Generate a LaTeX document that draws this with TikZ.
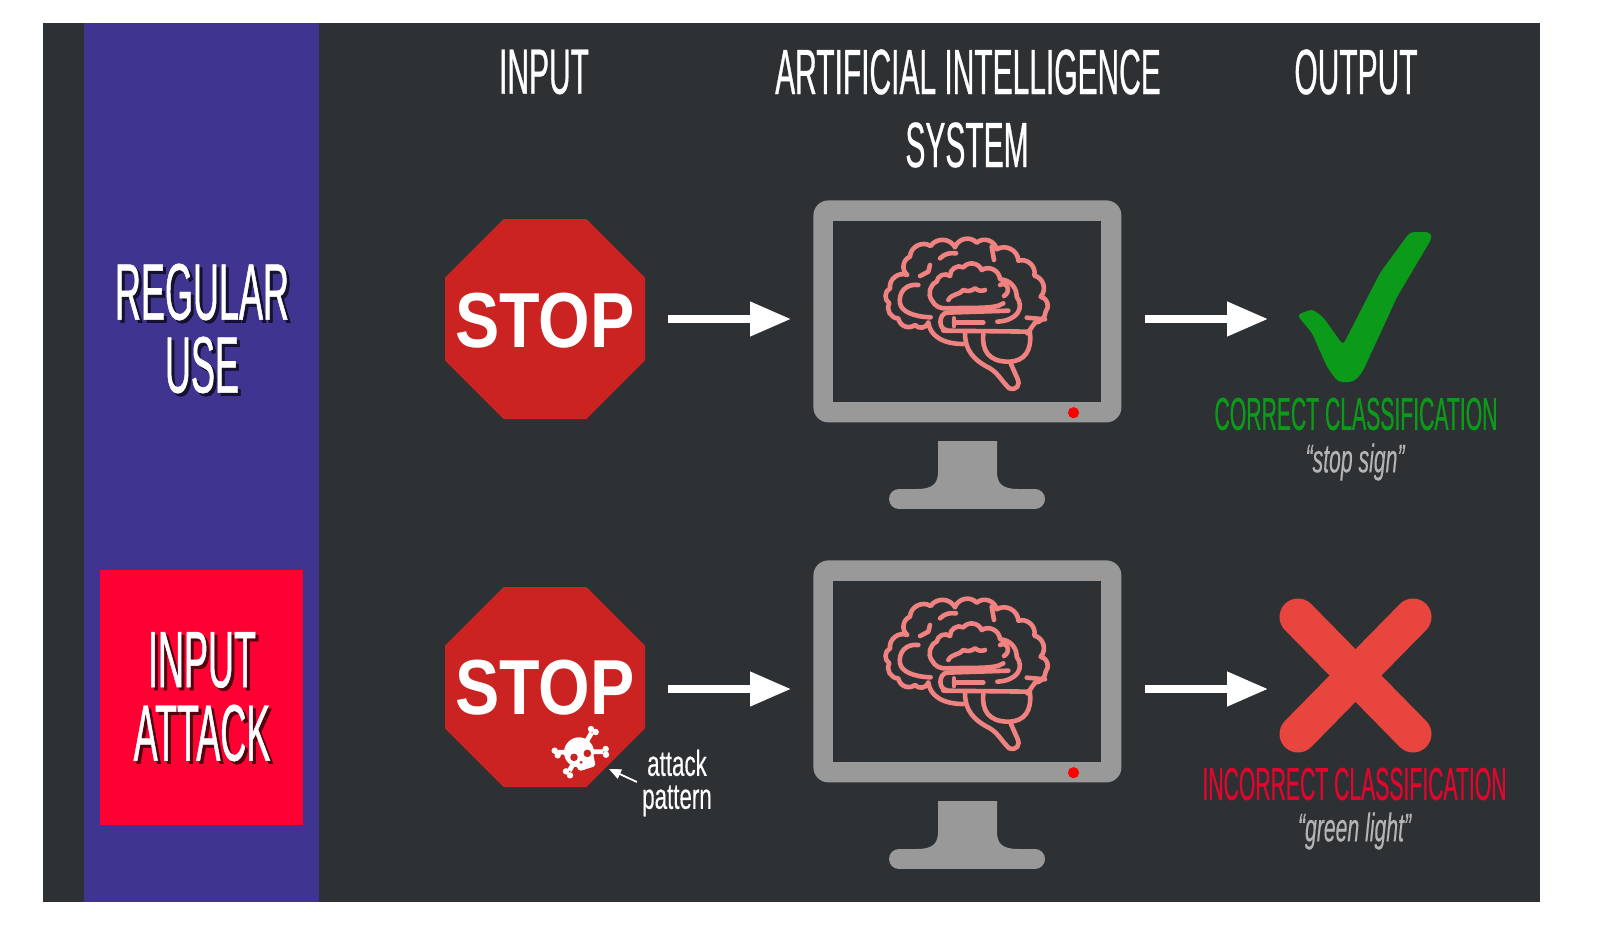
\documentclass[tikz,border=0pt]{standalone}
\usepackage{fontspec}
\setmainfont{Liberation Sans}
\newfontfamily\cond[FakeStretch=.46,FakeBold=.5]{Liberation Sans}
\newfontfamily\condhead[FakeStretch=.468,FakeBold=.5]{Liberation Sans}
\newfontfamily\condrow[FakeStretch=.45,FakeBold=.6]{Liberation Sans}
\newfontfamily\condq[FakeStretch=.53,FakeBold=.2]{Liberation Sans}
\newfontfamily\condthin[FakeStretch=.62,FakeBold=.2]{Liberation Sans}
\newfontfamily\stopfont[FakeStretch=.85]{Liberation Sans}
\usetikzlibrary{arrows.meta,shapes.geometric}
\definecolor{bgdark}{HTML}{2D3133}
\definecolor{purplebar}{HTML}{3F3590}
\definecolor{redbox}{HTML}{FF0033}
\definecolor{monitorgrey}{HTML}{999999}
\definecolor{stopred}{HTML}{CB2222}
\definecolor{brainpink}{HTML}{F08282}
\definecolor{okgreen}{HTML}{0C9A1A}
\definecolor{badred}{HTML}{E8453F}
\definecolor{badtext}{HTML}{E0062D}
\definecolor{softgrey}{HTML}{B4B4B4}
\tikzset{
  header/.style={text=white,font=\condhead\fontsize{32}{32}\selectfont,inner sep=0pt},
  rowlabel/.style={text=white,font=\condrow\fontsize{40}{40}\selectfont,inner sep=0pt},
  rowshadow/.style={text=black,text opacity=.65,font=\condrow\fontsize{40}{40}\selectfont,inner sep=0pt},
  stopsign/.style={minimum width=100pt,minimum height=100pt,inner sep=0pt,text=white,
    font=\stopfont\bfseries\fontsize{39}{39}\selectfont},
  flow/.style={draw=white,line width=3.8pt,-{Triangle[length=20.5pt,width=16.5pt]},shorten >=11pt,shorten <=11.5pt},
  classtext/.style={font=\cond\fontsize{23}{23}\selectfont,inner sep=0pt},
  quotetext/.style={text=softgrey,font=\condq\itshape\fontsize{20}{20}\selectfont,inner sep=0pt},
  brainline/.style={draw=brainpink,line width=2.3pt,line cap=round,line join=round},
  scallop/.style={bend left=60,looseness=1.1},
  octagon/.pic={
    \fill[stopred] (-100,-41.4) -- (-41.4,-100) -- (41.4,-100) -- (100,-41.4) -- (100,41.4) -- (41.4,100) -- (-41.4,100) -- (-100,41.4) -- cycle;
  },
  monitor/.pic={
    \node[fill=monitorgrey,rounded corners=7.5pt,minimum width=154pt,minimum height=111pt,inner sep=0pt,anchor=north west] (-box) at (0,0) {};
    \fill[bgdark] (20,21) rectangle (288,201.5);
    \fill[red] (260.5,212.7) circle (2.8pt);
    \fill[monitorgrey] (125,241) -- (184,241) -- (184,272) .. controls (184,284) and (190,289) .. (205,289)
       -- (104,289) .. controls (119,289) and (125,284) .. (125,272) -- cycle;
    \draw[monitorgrey,line width=10pt,line cap=round] (86,299) -- (222,299);
    \begin{scope}[shift={(-13,-10)},x=.16667pt,y=-.16667pt]
      % outer cortex
      \draw[brainline] (385,398) to[scallop] (345,405) to[scallop] (295,385)
        to[scallop] (268,340) to[scallop] (270,295) to[scallop] (322,255)
        to[scallop] (330,200) to[scallop] (392,168) to[scallop] (465,172)
        to[scallop] (530,158) to[scallop] (590,178) to[scallop] (655,212)
        to[scallop] (703,257) to[scallop] (722,320) to[scallop] (737,365)
        to[bend left=40] (705,398) -- (682,430);
      % base lines
      \draw[brainline] (430,422) -- (690,425);
      \draw[brainline] (385,398) .. controls (390,435) and (425,462) .. (490,462);
      \draw[brainline] (495,430) .. controls (495,480) and (520,510) .. (570,535)
        .. controls (595,550) and (610,580) .. (628,595) .. controls (650,602) and (662,585) .. (652,565) -- (632,520);
      \draw[brainline] (550,432) .. controls (545,480) and (565,515) .. (625,515)
        .. controls (675,515) and (695,480) .. (690,430);
      % inner lobes
      \draw[brainline] (610,340) .. controls (585,358) and (520,352) .. (440,355)
        to[bend left=35] (395,330) to[bend left=50] (410,275) to[scallop] (450,258)
        to[scallop] (490,232) to[scallop] (545,240) to[scallop] (600,268)
        to[bend left=45] (650,320) .. controls (675,355) and (650,392) .. (592,395);
      \draw[brainline] (600,285) .. controls (620,272) and (635,305) .. (612,318);
      \draw[brainline] (445,330) .. controls (455,310) and (480,315) .. (490,300) to[bend right=30] (525,295) to[bend right=30] (555,300);
      \draw[brainline] (625,362) -- (440,368) .. controls (415,372) and (415,420) .. (440,420);
      \draw[brainline] (462,398) -- (550,398); \draw[brainline] (462,385) -- (462,408);
      \draw[brainline] (680,383) -- (735,388);
      % sulci
      \draw[brainline] (355,285) .. controls (315,280) and (295,310) .. (300,340) .. controls (305,365) and (340,380) .. (392,382);
      \draw[brainline] (360,258) -- (385,245) -- (390,225);
      \draw[brainline] (420,205) .. controls (435,190) and (450,188) .. (468,190);
      \draw[brainline] (575,170) -- (582,210);
    \end{scope}
  },
}
\begin{document}
\begin{tikzpicture}[x=.5pt,y=-.5pt]
\useasboundingbox (0,0) rectangle (1600,931);
\fill[bgdark] (43,23) rectangle (1540,902);
\fill[purplebar] (84,23) rectangle (319,902);
\node[fill=redbox,minimum width=101.5pt,minimum height=127.5pt,inner sep=0pt] (attackbox) at (201,697.5) {};

\node[header] (hinput) at (544,72) {INPUT};
\node[header] (hai) at (968,72) {ARTIFICIAL INTELLIGENCE};
\node[header] (hsys) at (967,145) {SYSTEM};
\node[header] (hout) at (1356,72) {OUTPUT};

\node[rowshadow] (s1) at (205,295) {REGULAR};
\node[rowshadow] (s2) at (205,368) {USE};
\node[rowlabel] (r1) at (202,292) {REGULAR};
\node[rowlabel] (r2) at (202,365) {USE};
\node[rowshadow] (s3) at (205,663) {INPUT};
\node[rowshadow] (s4) at (205,736) {ATTACK};
\node[rowlabel] (r3) at (202,660) {INPUT};
\node[rowlabel] (r4) at (202,733) {ATTACK};

\pic at (545,319) {octagon};
\pic at (545,687) {octagon};
\node[stopsign] (stop1) at (545,321) {STOP};
\node[stopsign] (stop2) at (545,688) {STOP};

\pic (m1) at (813,200) {monitor};
\pic (m2) at (813,560) {monitor};

\coordinate (res1) at (1290,319);
\coordinate (res2) at (1290,689);
\draw[flow] (stop1.east |- res1) -- (res1 -| m1-box.west);
\draw[flow] (res1 -| m1-box.east) -- (res1);
\draw[flow] (stop2.east |- res2) -- (res2 -| m2-box.west);
\draw[flow] (res2 -| m2-box.east) -- (res2);

% check mark
\fill[okgreen,rounded corners=2pt] (1297,315) -- (1312,309) -- (1323,317) -- (1343,345) -- (1380,273) -- (1410,232) -- (1430,232) -- (1432,238) -- (1397,297) -- (1362,373) -- (1353,382) -- (1338,382) -- (1327,367) -- (1312,333) -- cycle;
% cross
\draw[badred,line width=18.5pt,line cap=round] (1298,617) -- (1413,734);
\draw[badred,line width=18.5pt,line cap=round] (1413,617) -- (1298,734);

\node[classtext,text=okgreen] (c1) at (1356,414) {CORRECT CLASSIFICATION};
\node[quotetext] (q1) at (1355,462) {“stop sign”};
\node[classtext,text=badtext] (c2) at (1354.5,784) {INCORRECT CLASSIFICATION};
\node[quotetext] (q2) at (1354.5,831) {“green light”};

% skull and crossbones
\begin{scope}[shift={(430,580)},x=.16667pt,y=-.16667pt]
  \draw[white,line width=2.4pt] (382,517) -- (520,515);
  \draw[white,line width=2.4pt] (485,458) -- (418,572);
  \fill[white] (374,512) circle (1.6pt) (383,526) circle (1.6pt) (527,507) circle (1.6pt) (528,524) circle (1.6pt)
    (483,447) circle (1.6pt) (497,456) circle (1.6pt) (408,574) circle (1.6pt) (420,586) circle (1.6pt);
  \fill[white] (447,517) circle (7.5pt);
  \fill[white,rounded corners=1pt] (432,540) -- (490,525) -- (497,558) -- (447,574) -- cycle;
  \fill[stopred] (432,532) circle (1.9pt) (472,520) circle (1.9pt) (453,547) circle (.8pt);
\end{scope}

\node[inner sep=0pt,text=white,align=center,font=\condthin\fontsize{18}{16.5}\selectfont] (attacklabel) at (677,783) {attack\\pattern};
\draw[white,line width=.9pt,-{Triangle[length=6pt,width=5pt]}] (attacklabel.west |- 0,782) ++(-5,0) -- (609,769);
\end{tikzpicture}
\end{document}
